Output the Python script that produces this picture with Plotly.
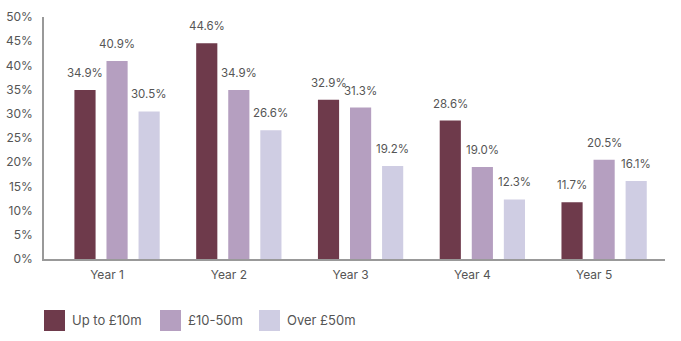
import plotly.graph_objects as go

categories = ["Year 1", "Year 2", "Year 3", "Year 4", "Year 5"]
series_names = ["Up to £10m", "£10-50m", "Over £50m"]
up_to_10m = [34.9, 44.6, 32.9, 28.6, 11.7]
m10_50 = [40.9, 34.9, 31.3, 19.0, 20.5]
over_50m = [30.5, 26.6, 19.2, 12.3, 16.1]
colors = ["#6e3a4b", "#b59fc0", "#cfcde3"]
y_ticks = [0, 5, 10, 15, 20, 25, 30, 35, 40, 45, 50]
y_tick_labels = [f"{t}%" for t in y_ticks]

FONT = "Inter"
GREY = "#555555"

fig = go.Figure()
all_series = [up_to_10m, m10_50, over_50m]
for k, (name, vals, col) in enumerate(zip(series_names, all_series, colors)):
    fig.add_trace(go.Bar(
        x=list(range(len(categories))), y=vals, name=name, marker_color=col,
        marker_line_width=0, showlegend=False,
    ))
    # value labels above bars, offset within group
    for i, v in enumerate(vals):
        fig.add_annotation(x=i, y=v, xshift=(k - 1) * 32, yshift=8,
                           text=f"{v:.1f}%", showarrow=False, yanchor="bottom",
                           font=dict(family=FONT, size=11.5, color=GREY))

fig.update_layout(
    width=681, height=341,
    margin=dict(l=44, r=16, t=17, b=82, autoexpand=False),
    paper_bgcolor="white", plot_bgcolor="white",
    barmode="group", bargap=0.21, bargroupgap=0.34,
    font=dict(family=FONT, size=12, color=GREY),
    xaxis=dict(range=[-0.6, 4.5], tickvals=list(range(len(categories))),
               ticktext=categories, showline=True, linecolor="#999999",
               linewidth=1.5, ticks="", showgrid=False, zeroline=False,
               automargin=False, ticklabelshift=-10, ticklabelstandoff=4,
               tickfont=dict(family=FONT, size=12, color=GREY)),
    yaxis=dict(range=[0, 50], tickvals=y_ticks, ticktext=y_tick_labels,
               showline=True, linecolor="#999999", linewidth=1.5, ticks="",
               showgrid=False, zeroline=False, ticklabelstandoff=7,
               automargin=False,
               tickfont=dict(family=FONT, size=12, color=GREY)),
)

# custom legend with large square swatches
legend_x = [44, 160, 259]
for name, col, x0 in zip(series_names, colors, legend_x):
    fig.add_shape(type="rect", xref="paper", yref="paper",
                  x0=(x0 - 44) / 621, x1=(x0 + 21 - 44) / 621,
                  y0=(259 - 331) / 242, y1=(259 - 310) / 242,
                  fillcolor=col, line_width=0)
    fig.add_annotation(xref="paper", yref="paper", x=(x0 + 26 - 44) / 621,
                       y=(259 - 320.5) / 242, text=name, showarrow=False,
                       xanchor="left", yanchor="middle",
                       font=dict(family=FONT, size=13, color=GREY))

fig.write_html("out.html")
